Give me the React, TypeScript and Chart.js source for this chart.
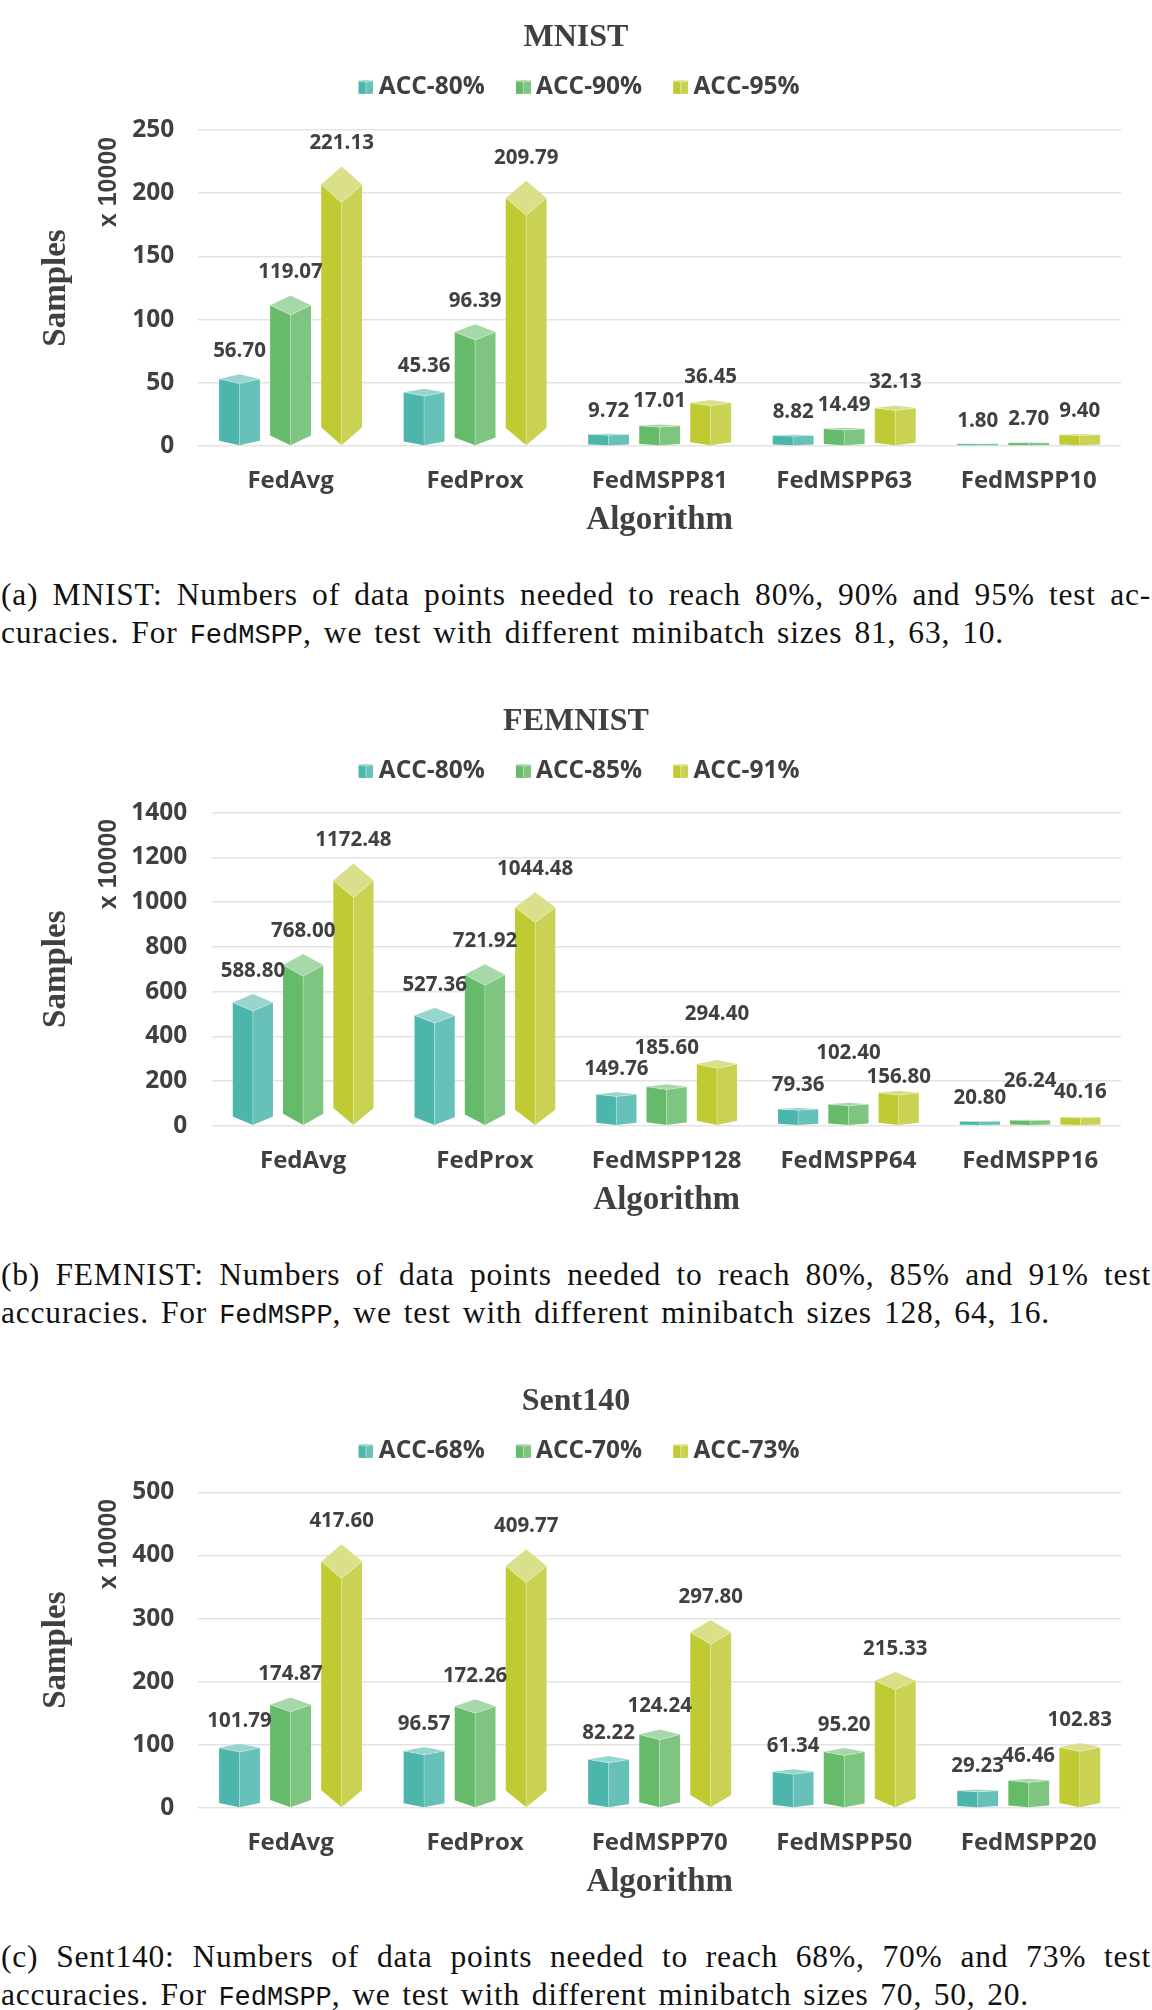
import React, { useEffect, useRef } from "react";
import { Chart, registerables } from "chart.js";

Chart.register(...registerables);

const SERIES_COLORS = ["#4DB6AC", "#66BB6A", "#C0CA33"];

const mnistCategories = ["FedAvg", "FedProx", "FedMSPP81", "FedMSPP63", "FedMSPP10"];
const mnistLegend = ["ACC-80%", "ACC-90%", "ACC-95%"];
const mnistAcc80 = [56.7, 45.36, 9.72, 8.82, 1.8];
const mnistAcc90 = [119.07, 96.39, 17.01, 14.49, 2.7];
const mnistAcc95 = [221.13, 209.79, 36.45, 32.13, 9.4];

const femnistCategories = ["FedAvg", "FedProx", "FedMSPP128", "FedMSPP64", "FedMSPP16"];
const femnistLegend = ["ACC-80%", "ACC-85%", "ACC-91%"];
const femnistAcc80 = [588.8, 527.36, 149.76, 79.36, 20.8];
const femnistAcc85 = [768.0, 721.92, 185.6, 102.4, 26.24];
const femnistAcc91 = [1172.48, 1044.48, 294.4, 156.8, 40.16];

const sentCategories = ["FedAvg", "FedProx", "FedMSPP70", "FedMSPP50", "FedMSPP20"];
const sentLegend = ["ACC-68%", "ACC-70%", "ACC-73%"];
const sentAcc68 = [101.79, 96.57, 82.22, 61.34, 29.23];
const sentAcc70 = [174.87, 172.26, 124.24, 95.2, 46.46];
const sentAcc73 = [417.6, 409.77, 297.8, 215.33, 102.83];

const DEFAULT_LIFT = 23;
const femnistLift80 = [DEFAULT_LIFT, DEFAULT_LIFT, DEFAULT_LIFT, DEFAULT_LIFT, DEFAULT_LIFT];
const femnistLift85 = [DEFAULT_LIFT, DEFAULT_LIFT, 36.5, 49.5, 38.5];
const femnistLift91 = [DEFAULT_LIFT, DEFAULT_LIFT, 45.5, 13.5, 24.5];

const TEXT = "#404040";
const SANS = "'Open Sans', 'Noto Sans', sans-serif";
const SERIF = "'Liberation Serif', serif";

function mix(hex: string, amount: number) {
  const n = parseInt(hex.slice(1), 16);
  const ch = [(n >> 16) & 255, (n >> 8) & 255, n & 255].map((c) => Math.round(c + (255 - c) * amount));
  return `rgb(${ch[0]},${ch[1]},${ch[2]})`;
}

function poly(ctx: CanvasRenderingContext2D, pts: number[][], fill: string) {
  ctx.beginPath();
  pts.forEach((p, i) => (i ? ctx.lineTo(p[0], p[1]) : ctx.moveTo(p[0], p[1])));
  ctx.closePath();
  ctx.fillStyle = fill;
  ctx.fill();
}

function drawPrism(ctx: CanvasRenderingContext2D, x: number, top: number, base: number, width: number, depth: number, color: string) {
  const l = x - width / 2;
  const r = x + width / 2;
  poly(ctx, [[l, top + depth], [x, top + 2 * depth], [x, base], [l, base - depth]], color);
  poly(ctx, [[x, top + 2 * depth], [r, top + depth], [r, base - depth], [x, base]], mix(color, 0.15));
  poly(ctx, [[x, top], [r, top + depth], [x, top + 2 * depth], [l, top + depth]], mix(color, 0.42));
  ctx.save();
  ctx.strokeStyle = "rgba(255,255,255,0.28)";
  ctx.lineWidth = 1;
  ctx.beginPath();
  ctx.moveTo(l, top + depth);
  ctx.lineTo(x, top + 2 * depth);
  ctx.lineTo(r, top + depth);
  ctx.moveTo(x, top + 2 * depth);
  ctx.lineTo(x, base);
  ctx.stroke();
  ctx.restore();
}

function legendSwatch(color: string) {
  const c = document.createElement("canvas");
  c.width = 25;
  c.height = 14;
  const ctx = c.getContext("2d") as CanvasRenderingContext2D;
  drawPrism(ctx, 17.5, 0, 14, 15, 0.6, color);
  return c;
}

const prismPlugin = {
  id: "prism",
  beforeDatasetDraw(chart: any, args: any) {
    const ctx = chart.ctx;
    const ds = chart.data.datasets[args.index];
    ctx.save();
    args.meta.data.forEach((bar: any) => {
      const depth = (bar.base - bar.y) * 0.065;
      drawPrism(ctx, bar.x, bar.y, bar.base, bar.width, depth, ds.backgroundColor);
    });
    ctx.restore();
    return false;
  },
  afterDatasetsDraw(chart: any) {
    const ctx = chart.ctx;
    ctx.save();
    ctx.font = `bold 20.5px ${SANS}`;
    ctx.fillStyle = TEXT;
    ctx.textAlign = "center";
    ctx.textBaseline = "middle";
    chart.data.datasets.forEach((ds: any, i: number) => {
      chart.getDatasetMeta(i).data.forEach((bar: any, j: number) => {
        const lift = ds.lifts ? ds.lifts[j] : DEFAULT_LIFT;
        ctx.fillText(ds.data[j].toFixed(2), bar.x, bar.y - lift);
      });
    });
    ctx.restore();
  },
};

type Spec = {
  title: string;
  categories: string[];
  legend: string[];
  series: number[][];
  lifts?: number[][];
  max: number;
  step: number;
  plotLeft: number;
  plotTop: number;
  plotBottom: number;
  unitY: number;
  tickGap: number;
};

const TITLE_BOTTOM = 44.2;
const RIGHT_GAP = 31;

function shiftDraw(box: any, dx: number, dy: number) {
  const draw = box.draw;
  box.draw = function () {
    const c = this.ctx;
    c.save();
    c.translate(dx, dy);
    draw.call(this);
    c.restore();
  };
}

function ChartBlock({ spec, top }: { spec: Spec; top: number }) {
  const ref = useRef<HTMLCanvasElement | null>(null);
  const height = Math.round(spec.plotBottom + 94);
  useEffect(() => {
    const tweakBoxes = {
      id: "tweakBoxes",
      beforeLayout(chart: any) {
        const legend = chart.legend;
        if (!legend || legend.__patched) return;
        legend.__patched = true;
        const fit = legend.fit;
        legend.fit = function () {
          fit.call(this);
          this.height = spec.plotTop - TITLE_BOTTOM;
        };
        shiftDraw(legend, RIGHT_GAP / 2 + 1.5, 3);
        shiftDraw(chart.titleBlock, RIGHT_GAP / 2, 3);
      },
    };
    const unitLabel = {
      id: "unitLabel",
      afterDraw(chart: any) {
        const ctx = chart.ctx;
        ctx.save();
        ctx.translate(109, spec.unitY);
        ctx.rotate(-Math.PI / 2);
        ctx.font = "bold 25px 'Liberation Sans', sans-serif";
        ctx.fillStyle = TEXT;
        ctx.textAlign = "center";
        ctx.textBaseline = "middle";
        ctx.fillText("x 10000", 0, 0);
        ctx.restore();
      },
    };
    const chart = new Chart(ref.current as HTMLCanvasElement, {
      type: "bar",
      data: {
        labels: spec.categories,
        datasets: spec.series.map((values, i) => ({
          label: spec.legend[i],
          data: values,
          backgroundColor: SERIES_COLORS[i],
          lifts: spec.lifts ? spec.lifts[i] : undefined,
          categoryPercentage: 0.83,
          barPercentage: 0.8,
        })) as any,
      },
      plugins: [tweakBoxes, prismPlugin, unitLabel] as any,
      options: {
        responsive: false,
        animation: false,
        devicePixelRatio: 1,
        layout: { padding: { right: RIGHT_GAP, left: 0, top: 0, bottom: 0 } },
        plugins: {
          tooltip: { enabled: false },
          title: {
            display: true,
            text: spec.title,
            color: TEXT,
            font: { family: SERIF, size: 32, weight: "bold", lineHeight: 0.6 },
            padding: { top: 25, bottom: 0 },
          },
          legend: {
            display: true,
            position: "top",
            labels: {
              usePointStyle: true,
              pointStyleWidth: 11,
              padding: 28,
              color: TEXT,
              font: { family: SANS, size: 24.5, weight: "bold" },
              generateLabels: () =>
                spec.legend.map((text, i) => ({
                  text,
                  fontColor: TEXT,
                  datasetIndex: i,
                  hidden: false,
                  pointStyle: legendSwatch(SERIES_COLORS[i]),
                })),
            },
          },
        },
        scales: {
          x: {
            offset: true,
            border: { display: false },
            grid: { display: false, drawTicks: false },
            ticks: {
              color: TEXT,
              padding: 21,
              maxRotation: 0,
              autoSkip: false,
              font: { family: SANS, size: 24, weight: "bold" },
            },
            title: {
              display: true,
              text: "Algorithm",
              color: TEXT,
              font: { family: SERIF, size: 33, weight: "bold" },
              padding: 0,
            },
            afterFit(scale: any) {
              scale.height = height - spec.plotBottom;
            },
          },
          y: {
            min: 0,
            max: spec.max,
            border: { display: false },
            grid: { color: "#E3E3E3", lineWidth: 1.5, drawTicks: false },
            ticks: {
              stepSize: spec.step,
              color: TEXT,
              padding: spec.tickGap,
              font: { family: SANS, size: 24.5, weight: "bold" },
              callback: (v: any) => String(v),
            },
            title: {
              display: true,
              text: "Samples",
              color: TEXT,
              font: { family: SERIF, size: 33, weight: "bold" },
              padding: { top: 37, bottom: 0 },
            },
            afterFit(scale: any) {
              scale.width = spec.plotLeft;
            },
          },
        },
      } as any,
    });
    return () => chart.destroy();
  }, []);
  return (
    <canvas
      ref={ref}
      width={1152}
      height={height}
      style={{ position: "absolute", left: 0, top, width: 1152, height, display: "block" }}
    />
  );
}

function CaptionLine({ y, width, children }: { y: number; width: number; children: React.ReactNode }) {
  return (
    <div
      style={{
        position: "absolute",
        left: 1,
        top: y - 20.5,
        width,
        height: 40,
        lineHeight: "40px",
        fontFamily: SERIF,
        fontSize: 31.5,
        color: "#111",
        textAlign: "justify",
        textAlignLast: "justify",
        letterSpacing: 0.8,
        whiteSpace: "normal",
      }}
    >
      {children}
    </div>
  );
}

const Tt = () => (
  <span style={{ fontFamily: "'Liberation Mono', monospace", fontSize: 27, letterSpacing: 0 }}>FedMSPP</span>
);

const mnistSpec: Spec = {
  title: "MNIST",
  categories: mnistCategories,
  legend: mnistLegend,
  series: [mnistAcc80, mnistAcc90, mnistAcc95],
  max: 250,
  step: 50,
  plotLeft: 198.3,
  plotTop: 130,
  plotBottom: 446,
  unitY: 182,
  tickGap: 24,
};
const femnistSpec: Spec = {
  title: "FEMNIST",
  categories: femnistCategories,
  legend: femnistLegend,
  series: [femnistAcc80, femnistAcc85, femnistAcc91],
  lifts: [femnistLift80, femnistLift85, femnistLift91],
  max: 1400,
  step: 200,
  plotLeft: 212.3,
  plotTop: 128.7,
  plotBottom: 441.7,
  unitY: 180,
  tickGap: 25,
};
const sentSpec: Spec = {
  title: "Sent140",
  categories: sentCategories,
  legend: sentLegend,
  series: [sentAcc68, sentAcc70, sentAcc73],
  max: 500,
  step: 100,
  plotLeft: 198.3,
  plotTop: 128.3,
  plotBottom: 444,
  unitY: 180,
  tickGap: 24,
};

export default function App() {
  return (
    <div style={{ position: "absolute", left: 0, top: 0, width: 1152, height: 2010, background: "#fff", overflow: "hidden" }}>
      <ChartBlock spec={mnistSpec} top={0} />
      <CaptionLine y={595} width={1150}>
        (a) MNIST: Numbers of data points needed to reach 80%, 90% and 95% test ac-
      </CaptionLine>
      <CaptionLine y={633} width={1003}>
        curacies. For <Tt />, we test with different minibatch sizes 81, 63, 10.
      </CaptionLine>
      <ChartBlock spec={femnistSpec} top={684} />
      <CaptionLine y={1275} width={1150}>
        (b) FEMNIST: Numbers of data points needed to reach 80%, 85% and 91% test
      </CaptionLine>
      <CaptionLine y={1313.5} width={1049}>
        accuracies. For <Tt />, we test with different minibatch sizes 128, 64, 16.
      </CaptionLine>
      <ChartBlock spec={sentSpec} top={1364} />
      <CaptionLine y={1957} width={1150}>
        (c) Sent140: Numbers of data points needed to reach 68%, 70% and 73% test
      </CaptionLine>
      <CaptionLine y={1995} width={1028}>
        accuracies. For <Tt />, we test with different minibatch sizes 70, 50, 20.
      </CaptionLine>
    </div>
  );
}
